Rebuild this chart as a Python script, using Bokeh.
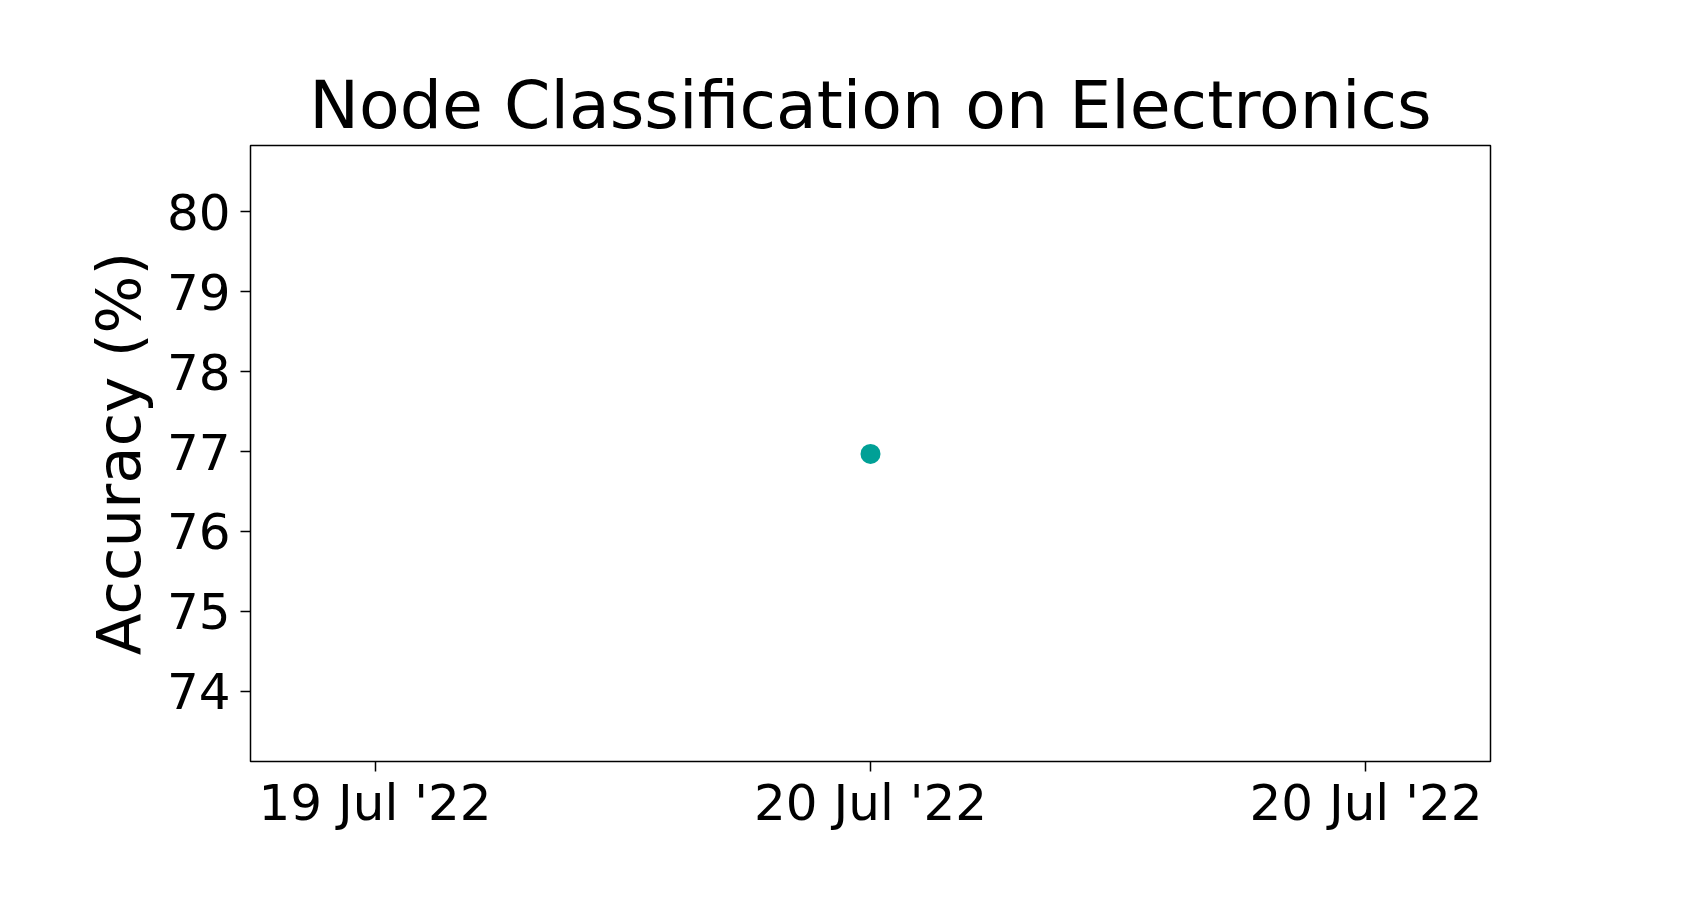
import pandas as pd
from bokeh.plotting import figure
from bokeh.models import Range1d, FixedTicker, DatetimeTickFormatter
from bokeh.embed import file_html
from bokeh.resources import INLINE

# ---- data ----
dates = ["2022-07-20 02:00"]
accuracy = [76.97]
x_tick_dates = ["2022-07-19 14:00", "2022-07-20 02:00", "2022-07-20 14:00"]
y_ticks = [74, 75, 76, 77, 78, 79, 80]
title_text = "Node Classification on Electronics"
y_label = "Accuracy (%)"

x = pd.to_datetime(dates)
ticks_ms = [pd.Timestamp(d).value / 1e6 for d in x_tick_dates]
step = ticks_ms[1] - ticks_ms[0]
x_start = ticks_ms[1] - 1.2513 * step
x_end = ticks_ms[1] + 1.2513 * step

FONT = "DejaVu Sans"

p = figure(width=1684, height=884, x_axis_type="datetime",
           output_backend="svg", toolbar_location=None,
           x_range=Range1d(x_start, x_end), y_range=Range1d(73.12, 80.83),
           min_border_left=250, min_border_right=194,
           min_border_top=145, min_border_bottom=123)

p.title.text = title_text
p.title.text_font = FONT
p.title.text_font_size = "66.5px"
p.title.text_font_style = "normal"
p.title.align = "center"
p.title.text_color = "black"
p.title.standoff = 3

p.grid.visible = False
p.outline_line_color = "black"
p.outline_line_width = 1.5
p.background_fill_color = "white"
p.border_fill_color = "white"

for ax in (p.xaxis[0], p.yaxis[0]):
    ax.axis_line_color = None
    ax.major_tick_line_color = "black"
    ax.major_tick_line_width = 1.5
    ax.major_tick_out = 10
    ax.major_tick_in = 0
    ax.minor_tick_line_color = None
    ax.major_label_text_font = FONT
    ax.major_label_text_font_size = "50px"
    ax.major_label_text_color = "black"

p.xaxis.ticker = FixedTicker(ticks=ticks_ms)
fmt = "%d %b '%y"
p.xaxis.formatter = DatetimeTickFormatter(
    microseconds=fmt, milliseconds=fmt, seconds=fmt, minsec=fmt, minutes=fmt,
    hourmin=fmt, hours=fmt, days=fmt, months=fmt, years=fmt)
p.xaxis.major_label_standoff = 2

p.yaxis.ticker = FixedTicker(ticks=y_ticks)
p.yaxis.major_label_standoff = 10
p.yaxis.axis_label = y_label
p.yaxis.axis_label_text_font = FONT
p.yaxis.axis_label_text_font_size = "61px"
p.yaxis.axis_label_text_font_style = "normal"
p.yaxis.axis_label_text_color = "black"
p.yaxis.axis_label_standoff = 10

p.scatter(x=x, y=accuracy, size=20, color="#00a096", line_color=None)

open("out.html", "w").write(file_html(p, INLINE))
